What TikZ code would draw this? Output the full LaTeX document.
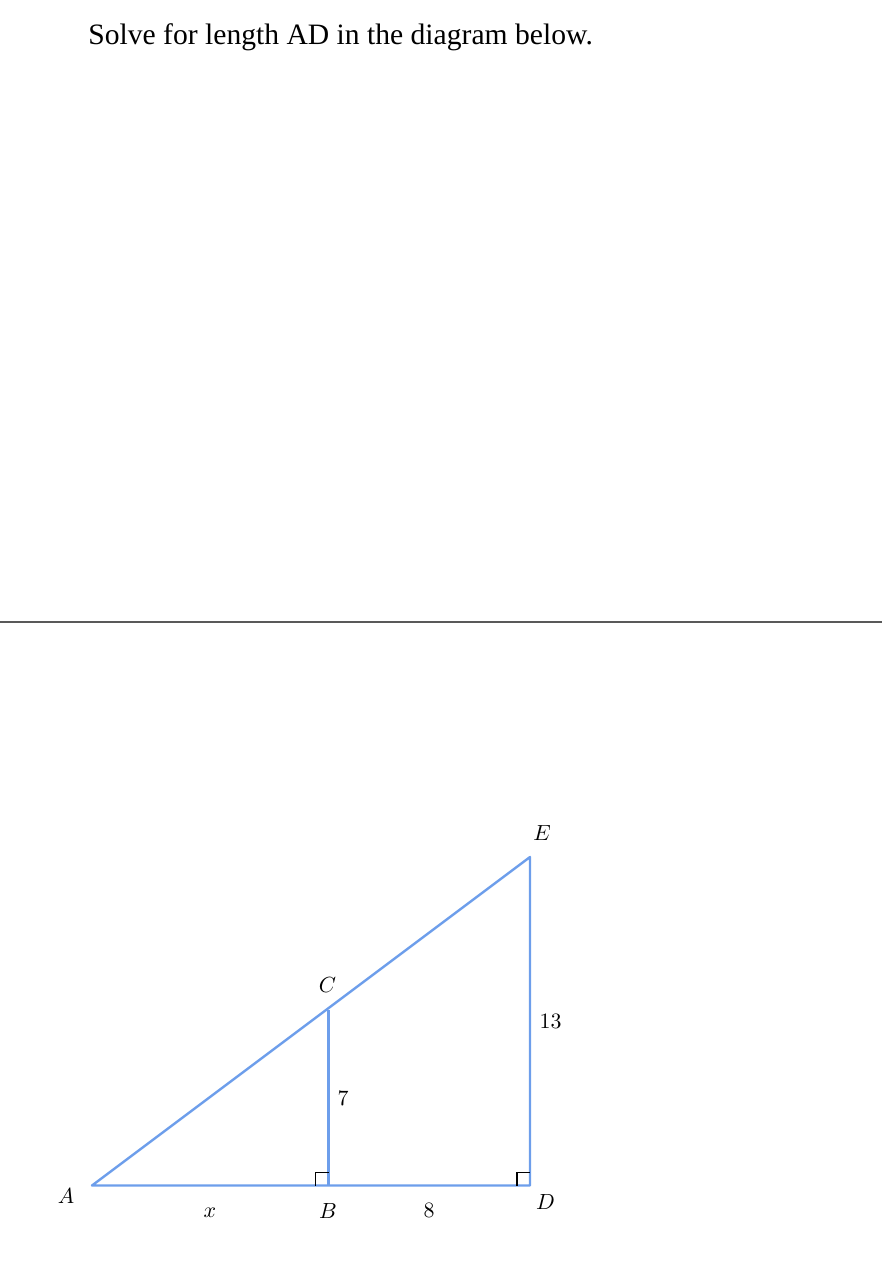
\documentclass[tikz,border=0pt]{standalone}
\usepackage{fontspec}
\setmainfont{Liberation Serif}
\definecolor{sideblue}{HTML}{6D9EEB}
\begin{document}
\begin{tikzpicture}[x=0.5pt,y=-0.5pt]
\tikzstyle{every node}+=[inner sep=0pt]
\tikzstyle{side}=[draw=sideblue,line width=1.2pt,line join=round]
\tikzstyle{rightmark}=[draw=black,line width=0.6pt]
\tikzstyle{lbl}=[font=\fontsize{11}{13}\selectfont]
\useasboundingbox (0,0) rectangle (882,1278);
% question
\node [anchor=base west,font=\fontsize{14.8}{17}\selectfont] (title) at (88,44.5) {Solve for length AD in the diagram below.};
\coordinate (L) at (0,622);
\coordinate (R) at (882,622);
\draw [gray!70!black,line width=0.7pt] (L) -- (R);
% vertices
\coordinate (A) at (92,1185.5);
\coordinate (B) at (328.5,1185.5);
\coordinate (D) at (530,1185.5);
\coordinate (C) at (328.5,1009.5);
\coordinate (E) at (530,857);
\draw [side] (A) -- (D) -- (E) -- cycle;
\draw [side] (B) -- (C);
% right angles
\draw [rightmark] (B) ++(-13,0) -- ++(0,-13) -- ++(13,0);
\draw [rightmark] (D) ++(-13,0) -- ++(0,-13) -- ++(13,0);
% labels
\node [lbl] (lA) at (66,1196) {$A$};
\node [lbl] (lB) at (328,1211) {$B$};
\node [lbl] (lC) at (327.5,985) {$C$};
\node [lbl] (lD) at (545.5,1202) {$D$};
\node [lbl] (lE) at (542,833.5) {$E$};
\node [lbl] (lx) at (210,1212.5) {$x$};
\node [lbl] (l8) at (429,1210.5) {$8$};
\node [lbl] (l7) at (343,1098.5) {$7$};
\node [lbl] (l13) at (550.5,1021.5) {$13$};
\end{tikzpicture}
\end{document}
